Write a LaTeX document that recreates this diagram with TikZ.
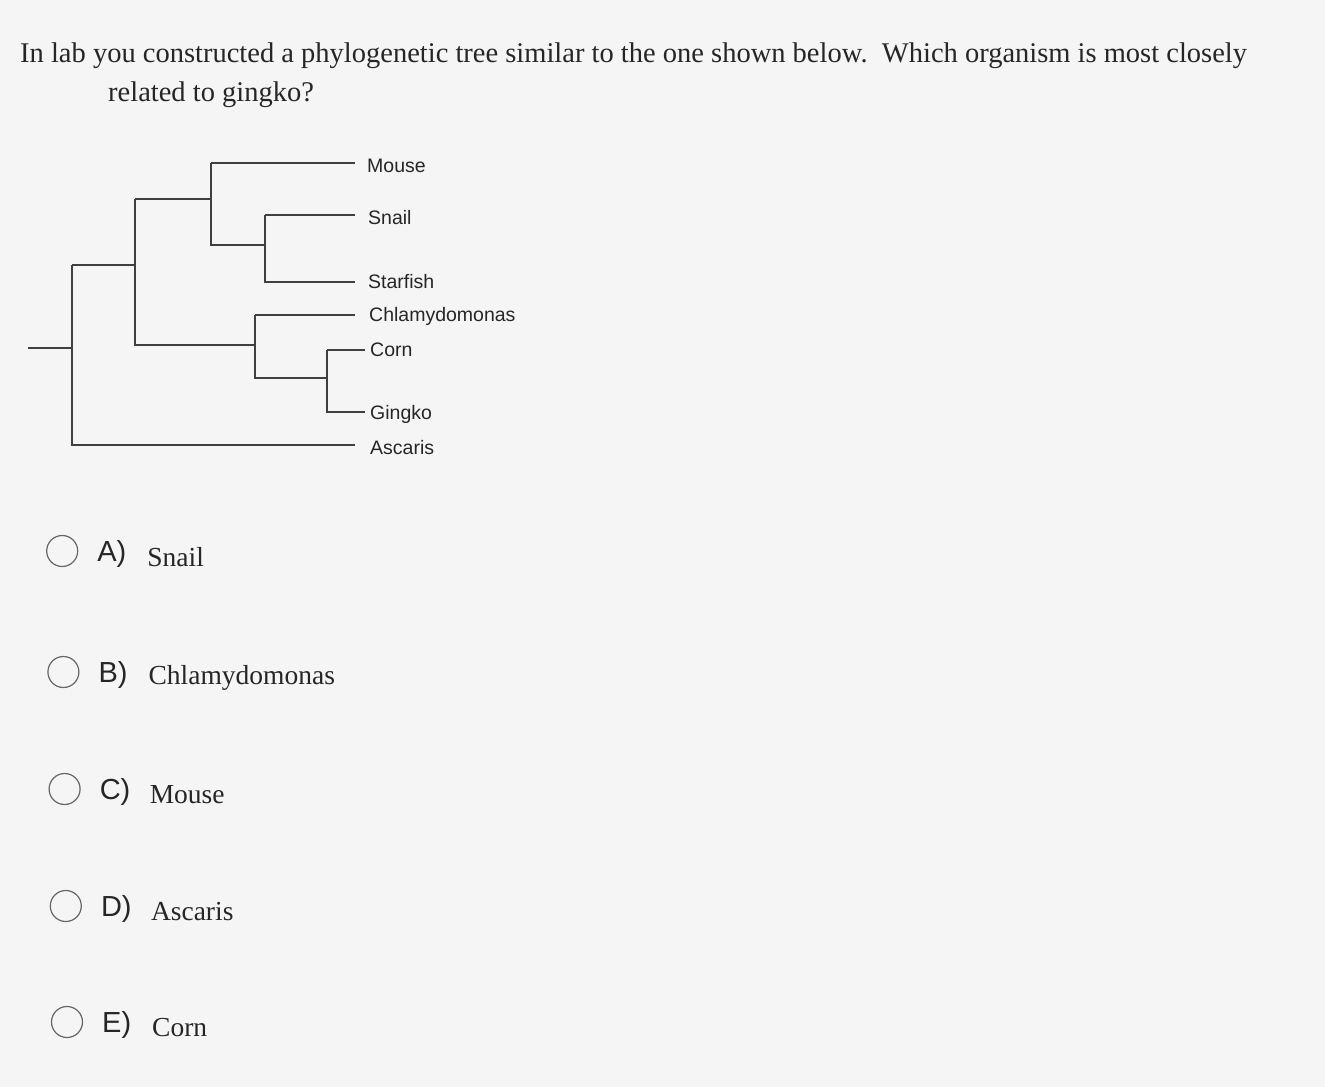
\documentclass[tikz,border=0pt]{standalone}
\usepackage{fontspec}
\setmainfont{Liberation Serif}
\setsansfont{Liberation Sans}
\begin{document}
\begin{tikzpicture}[x=1pt,y=-1pt,
  br/.style={draw=black!75,line width=1.3pt},
  lab/.style={anchor=west,font=\sffamily\fontsize{19.5}{22}\selectfont,text=black!85,inner sep=0pt},
  q/.style={anchor=west,font=\fontsize{28.5}{32}\selectfont,text=black!85,inner sep=0pt},
  rad/.style={draw=black!60,line width=1.2pt,circle,minimum size=31pt,inner sep=0pt},
  opt/.style={anchor=west,inner sep=0pt,text=black!85}]
\fill[gray!8] (0,0) rectangle (1325,1087);
\useasboundingbox (0,0) rectangle (1325,1087);
\node[q] (q1) at (20,56) {In lab you constructed a phylogenetic tree similar to the one shown below.\ \ Which organism is most closely};
\node[q] (q2) at (108,95) {related to gingko?};
% tree
\draw[br] (211,163) -- (355,163);
\draw[br] (211,163) -- (211,245) -- (265,245);
\draw[br] (265,215) -- (355,215);
\draw[br] (265,215) -- (265,282) -- (355,282);
\draw[br] (135,199) -- (211,199);
\draw[br] (135,199) -- (135,345) -- (255,345);
\draw[br] (255,315) -- (355,315);
\draw[br] (255,315) -- (255,378) -- (327,378);
\draw[br] (327,350) -- (365,350);
\draw[br] (327,350) -- (327,412) -- (365,412);
\draw[br] (72,265) -- (135,265);
\draw[br] (72,265) -- (72,445) -- (355,445);
\draw[br] (28,348) -- (72,348);
\node[lab] (mouse) at (367,166) {Mouse};
\node[lab] (snail) at (368,218) {Snail};
\node[lab] (star) at (368,282) {Starfish};
\node[lab] (chl) at (369,316) {Chlamydomonas};
\node[lab] (corn) at (370,350) {Corn};
\node[lab] (gin) at (370,414) {Gingko};
\node[lab] (asc) at (370,448) {Ascaris};
% options
\foreach \y/\l/\w [count=\i] in {551/A/Snail,672/B/Chlamydomonas,789/C/Mouse,906/D/Ascaris,1022/E/Corn}{
  \node[rad] (r\i) at (61+\i*1.2,\y) {};
  \node[opt,font=\sffamily\fontsize{29}{32}\selectfont] (l\i) at (96+\i*1.2,\y+3) {\l)};
  \node[opt,font=\fontsize{27.5}{30}\selectfont] (w\i) at (146+\i*1.2,\y+6) {\w};
}
\end{tikzpicture}
\end{document}
